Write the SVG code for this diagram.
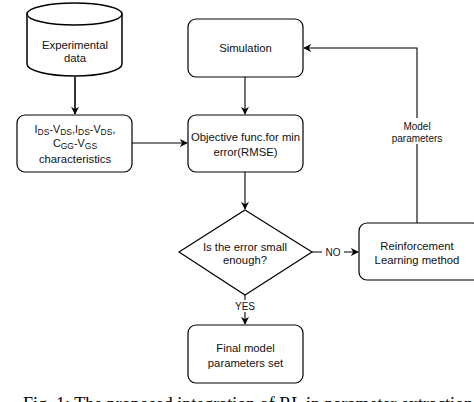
<svg xmlns="http://www.w3.org/2000/svg" width="474" height="402" viewBox="0 0 474 402">
<defs>
<marker id="arr" viewBox="0 0 10 10" refX="9" refY="5" markerWidth="8" markerHeight="8" markerUnits="userSpaceOnUse" orient="auto">
<path d="M0,0 L10,5 L0,10 L3,5 z" fill="#000"/>
</marker>
<style>
.box{fill:#fff;stroke:#000;stroke-width:1.2}
.t{font-family:"Liberation Sans",Arial,sans-serif;font-size:11.3px;fill:#111;text-anchor:middle}
.sm{font-family:"Liberation Sans",Arial,sans-serif;font-size:10px;fill:#111;text-anchor:middle}
.c{fill:none;stroke:#000;stroke-width:1.1;marker-end:url(#arr)}
.cap{font-family:"Liberation Serif","Times New Roman",serif;font-size:18px;fill:#000}
</style>
</defs>
<rect width="474" height="402" fill="#fff"/>

<g id="connectors">
<path class="c" d="M75,77 V114" style="stroke-width:1.6"/>
<path class="c" d="M132,143 H187"/>
<path class="c" d="M245,77 V114"/>
<path class="c" d="M245,172 V209"/>
<path class="c" d="M312,252 H358"/>
<path class="c" d="M245,295 V324"/>
<path class="c" d="M417,223 V48 H304"/>
<rect x="322" y="246" width="22" height="12" fill="#fff"/>
<text class="sm" x="333" y="256">NO</text>
<rect x="231" y="300" width="28" height="12" fill="#fff"/>
<text class="sm" x="245" y="310">YES</text>
<rect x="389" y="118" width="56" height="26" fill="#fff"/>
<text class="sm" x="417" y="130">Model</text>
<text class="sm" x="417" y="142">parameters</text>
</g>

<g id="experimental-data">
<path d="M27,14 V64 A47.5,12 0 0 0 122,64 V14" fill="#fff" stroke="#000" stroke-width="1.5"/>
<ellipse cx="74.5" cy="14" rx="47.5" ry="11" fill="#fff" stroke="#000" stroke-width="1.5"/>
<text class="t" x="75" y="49">Experimental</text>
<text class="t" x="75" y="62">data</text>
</g>

<g id="characteristics">
<rect class="box" x="17" y="115" width="115" height="57" rx="8"/>
<text class="t" x="75" y="133" style="font-size:10.8px">I<tspan font-size="8.5" dy="2">DS</tspan><tspan dy="-2">-V</tspan><tspan font-size="8.5" dy="2">DS</tspan><tspan dy="-2">,I</tspan><tspan font-size="8.5" dy="2">DS</tspan><tspan dy="-2">-V</tspan><tspan font-size="8.5" dy="2">DS</tspan><tspan dy="-2">,</tspan></text>
<text class="t" x="75" y="147" style="font-size:10.8px">C<tspan font-size="8.5" dy="2">GG</tspan><tspan dy="-2">-V</tspan><tspan font-size="8.5" dy="2">GS</tspan></text>
<text class="t" x="75" y="163">characteristics</text>
</g>

<g id="simulation">
<rect class="box" x="188" y="19" width="115" height="58" rx="8"/>
<text class="t" x="245.5" y="52">Simulation</text>
</g>

<g id="objective">
<rect class="box" x="188" y="115" width="115" height="57" rx="8"/>
<text class="t" x="245.5" y="141">Objective func.for min</text>
<text class="t" x="245.5" y="156">error(RMSE)</text>
</g>

<g id="decision">
<polygon class="box" points="245,210 312,252 245,295 179,252"/>
<text class="t" x="245" y="251">Is the error small</text>
<text class="t" x="245" y="264">enough?</text>
</g>

<g id="rl-method">
<rect class="box" x="359" y="223" width="122" height="57" rx="8"/>
<text class="t" x="417" y="250">Reinforcement</text>
<text class="t" x="417" y="264">Learning method</text>
</g>

<g id="final">
<rect class="box" x="188" y="325" width="115" height="58" rx="8"/>
<text class="t" x="245.5" y="352">Final model</text>
<text class="t" x="245.5" y="367">parameters set</text>
</g>

<text class="cap" x="23" y="410">Fig. 1: The proposed integration of RL in parameter extraction</text>
</svg>
